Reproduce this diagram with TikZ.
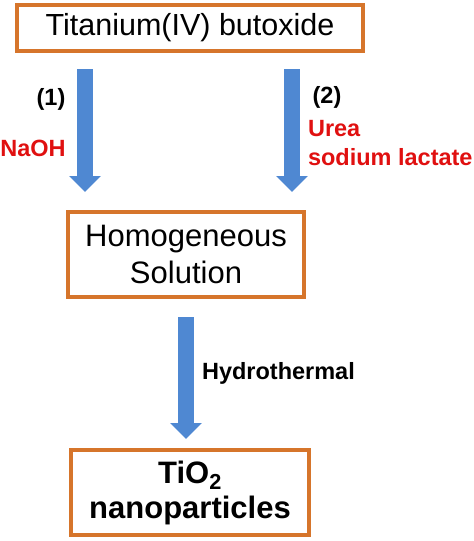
\documentclass[tikz,border=0pt]{standalone}
\usepackage{fontspec}
\setmainfont{Liberation Sans}
\usepackage{tikz}
\usetikzlibrary{arrows.meta}
\definecolor{boxorange}{RGB}{214,117,43}
\definecolor{arrowblue}{RGB}{79,136,210}
\definecolor{reagentred}{RGB}{224,16,16}
\tikzstyle{box} = [rectangle, text centered, align=center, draw=boxorange, line width=4pt]
\tikzstyle{reagent} = [text=reagentred, align=left, font=\fontsize{23.5}{29}\selectfont\bfseries]
\tikzstyle{cond} = [font=\fontsize{23.5}{29}\selectfont\bfseries]
\tikzstyle{arrow} = [draw=arrowblue, line width=16pt, -{Triangle[width=31pt,length=16pt]}]

\begin{document}
\begin{tikzpicture}[x=1pt,y=1pt]
\useasboundingbox (0,0) rectangle (474,-541);

\node (tbt) [box, minimum width=346pt, minimum height=46pt, font=\fontsize{30.5}{36}\selectfont] at (190,-28) {Titanium(IV) butoxide};
\node (homsol) [box, minimum width=236pt, minimum height=85pt, font=\fontsize{31}{37}\selectfont] at (186,-254.5) {Homogeneous\\Solution};
\node (tio2) [box, minimum width=238pt, minimum height=85pt, font=\fontsize{31}{35}\selectfont\bfseries] at (190,-492.5) {TiO\textsubscript{2}\\nanoparticles};

\node (lab1) [cond] at (51,-99) {(1)};
\node (naoh) [reagent] at (33,-148) {NaOH};
\node (lab2) [cond] at (327,-97) {(2)};
\node (urea) [reagent, anchor=west] at (304.5,-143.5) {Urea\\sodium lactate};
\node (hydro) [cond, anchor=west] at (198.5,-373) {Hydrothermal};

\draw [arrow] ([xshift=-105pt,yshift=-16pt]tbt.south) -- ([xshift=-101pt,yshift=18pt]homsol.north);
\draw [arrow] ([xshift=102pt,yshift=-16pt]tbt.south) -- ([xshift=106pt,yshift=18pt]homsol.north);
\draw [arrow] ([yshift=-18pt]homsol.south) -- ([xshift=-4pt,yshift=9pt]tio2.north);

\end{tikzpicture}
\end{document}
